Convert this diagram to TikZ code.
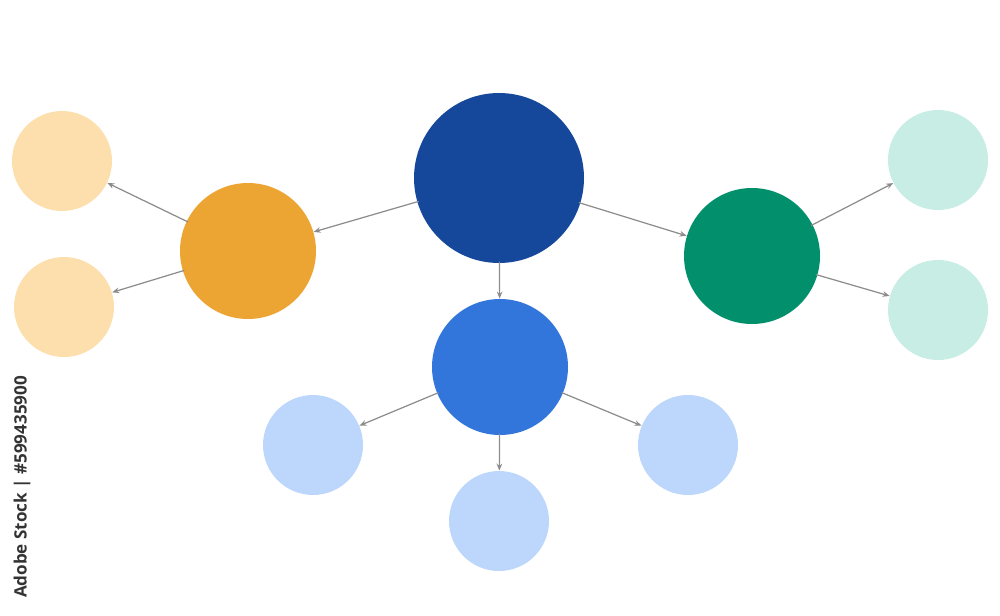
\documentclass[tikz,border=0pt]{standalone}
\usepackage{fontspec}
\setmainfont{Open Sans}
\usetikzlibrary{arrows.meta}
\definecolor{cmain}{HTML}{15479A}
\definecolor{corange}{HTML}{ECA433}
\definecolor{cgreen}{HTML}{02906C}
\definecolor{cblue}{HTML}{3276DB}
\definecolor{lorange}{HTML}{FDDFAE}
\definecolor{lgreen}{HTML}{C8EDE4}
\definecolor{lblue}{HTML}{BDD7FC}
\definecolor{cline}{HTML}{8C8C8C}
\definecolor{ctext}{HTML}{333333}
\tikzset{
  bub/.style={circle, inner sep=0pt, draw=none, minimum size=#1},
  conn/.style={draw=cline, line width=0.7pt, -{Stealth[length=4pt,width=3.2pt]}, shorten <=-1pt, shorten >=0pt},
}
\begin{document}
\begin{tikzpicture}[x=0.02cm,y=-0.02cm]
\useasboundingbox (0,0) rectangle (1000,615);
\node[bub=170*0.02cm, fill=cmain] (main) at (499,178) {};
\node[bub=136*0.02cm, fill=corange] (or) at (248,251) {};
\node[bub=136*0.02cm, fill=cgreen] (gr) at (752,256) {};
\node[bub=136*0.02cm, fill=cblue] (bl) at (500,367) {};
\node[bub=100*0.02cm, fill=lorange] (or1) at (62,161) {};
\node[bub=100*0.02cm, fill=lorange] (or2) at (64,307) {};
\node[bub=100*0.02cm, fill=lgreen] (gr1) at (938,160) {};
\node[bub=100*0.02cm, fill=lgreen] (gr2) at (938,310) {};
\node[bub=100*0.02cm, fill=lblue] (bl1) at (313,445) {};
\node[bub=100*0.02cm, fill=lblue] (bl2) at (499,521) {};
\node[bub=100*0.02cm, fill=lblue] (bl3) at (688,445) {};
\draw[conn] (main) -- (or);
\draw[conn] (main) -- (gr);
\draw[conn] (main) -- (bl);
\draw[conn] (or) -- (or1);
\draw[conn] (or) -- (or2);
\draw[conn] (gr) -- (gr1);
\draw[conn] (gr) -- (gr2);
\draw[conn] (bl) -- (bl1);
\draw[conn] (bl) -- (bl2);
\draw[conn] (bl) -- (bl3);
\node[rotate=90, text=ctext, font=\fontsize{9.7pt}{12pt}\selectfont\bfseries, inner sep=0pt] (wm) at (22,487) {Adobe Stock | \#599435900};
\end{tikzpicture}
\end{document}
